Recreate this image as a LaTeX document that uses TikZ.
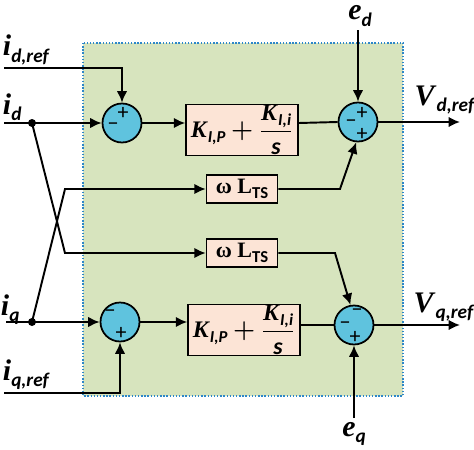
\documentclass[tikz,border=0pt]{standalone}
\usepackage{amsmath}
\usepackage{fontspec}
\setmainfont{Liberation Serif}
\newfontfamily\subf{Carlito}
\usepackage{xcolor}
\usetikzlibrary{positioning, arrows.meta}

\definecolor{panelgreen}{RGB}{215,228,190}
\definecolor{panelblue}{RGB}{45,135,200}
\definecolor{sumcyan}{RGB}{95,195,222}
\definecolor{gainpeach}{RGB}{252,228,214}

\newcommand{\sig}[3][11]{\textbf{\textit{#2}}\raisebox{-0.45ex}{\subf\fontsize{#1}{#1}\selectfont\textbf{\textit{#3}}}}

\tikzset{
  summer/.style={circle, draw, line width=1pt, fill=sumcyan, minimum size=0.78cm, inner sep=0pt},
  gain/.style={rectangle, draw, line width=0.9pt, fill=gainpeach, inner sep=0pt},
  dot/.style={circle, fill, minimum size=0.16cm, inner sep=0pt},
  sgn/.style={inner sep=0pt, font=\subf\fontsize{12.5}{12.5}\selectfont},
  sigtext/.style={inner sep=0pt, font=\fontsize{17}{20}\selectfont},
  arr/.style={-{Latex[length=6.5pt,width=6pt]}},
}

\begin{document}
\begin{tikzpicture}[x=0.02cm, y=-0.02cm, line width=1.1pt]
	\useasboundingbox (0,0) rectangle (474,450);
	
	%% Panel
	\draw[panelblue, densely dotted, fill=panelgreen, line width=0.8pt] (83,43) rectangle (403,396);
	
	%% Summing junctions
	\node[summer] (S1) at (122,123) {};
	\node[summer] (S2) at (358,122) {};
	\node[summer] (S3) at (120,322) {};
	\node[summer] (S4) at (354,325) {};
	
	%% Signs
	\node[sgn] at ([shift={(1,-10)}]S1.center) {+};
	\node[sgn] at ([shift={(-9,4)}]S1.center) {−};
	\node[sgn] at ([shift={(4,-9)}]S2.center) {+};
	\node[sgn] at ([shift={(-7,2)}]S2.center) {−};
	\node[sgn] at ([shift={(4,12)}]S2.center) {+};
	\node[sgn] at ([shift={(-10,-8)}]S3.center) {−};
	\node[sgn] at ([shift={(1,11)}]S3.center) {+};
	\node[sgn] at ([shift={(3,-12)}]S4.center) {−};
	\node[sgn] at ([shift={(-9,1)}]S4.center) {−};
	\node[sgn] at ([shift={(1,12)}]S4.center) {+};
	
	%% Gains
	\node[gain, minimum width=2.24cm, minimum height=1.02cm, font=\fontsize{13.5}{15}\selectfont] (PI1) at (242,130)
		{$\sig[9.5]{K}{I,P}\boldsymbol{+}\dfrac{\sig[9.5]{K}{I,i}}{\text{\subf\bfseries\itshape s}}$};
	\node[gain, minimum width=2.24cm, minimum height=1.02cm, font=\fontsize{13.5}{15}\selectfont] (PI2) at (244,330)
		{$\sig[9.5]{K}{I,P}\boldsymbol{+}\dfrac{\sig[9.5]{K}{I,i}}{\text{\subf\bfseries\itshape s}}$};
	\node[gain, minimum width=1.42cm, minimum height=0.56cm, font=\fontsize{12.5}{14}\selectfont] (W1) at (242,189)
		{\textbf{ω L}\raisebox{-0.45ex}{\subf\fontsize{9.5}{9.5}\selectfont\textbf{TS}}};
	\node[gain, minimum width=1.42cm, minimum height=0.56cm, font=\fontsize{12.5}{14}\selectfont] (W2) at (242,253)
		{\textbf{ω L}\raisebox{-0.45ex}{\subf\fontsize{9.5}{9.5}\selectfont\textbf{TS}}};
	
	%% Pick-off points
	\node[dot] (D1) at (32,123) {};
	\node[dot] (D2) at (32,322) {};
	
	%% Free ends and bends
	\coordinate (idref) at (4,68);
	\coordinate (idin) at (4,123);
	\coordinate (iqin) at (6,322);
	\coordinate (iqref) at (4,393);
	\coordinate (B1) at (65,189);
	\coordinate (B2) at (65,253);
	\coordinate (K1) at (340,189);
	\coordinate (K2) at (335,253);
	\coordinate (ed) at (358,30);
	\coordinate (eq) at (354,418);
	\coordinate (Vd) at (460,122);
	\coordinate (Vq) at (460,325);
	
	%% d axis
	\draw[arr] (idref) -| (S1.north);
	\draw[arr] (idin) -- (S1.west);
	\draw[arr] (S1.east) -- (S1 -| PI1.west);
	\draw (S1 -| PI1.east) -- (S2.west);
	\draw[arr] (ed) -- (S2.north);
	\draw[arr] (S2.east) -- (Vd);
	
	%% q axis
	\draw[arr] (iqin) -- (S3.west);
	\draw[arr] (iqref) -| (S3.south);
	\draw[arr] (S3.east) -- (S3 -| PI2.west);
	\draw (S4 -| PI2.east) -- (S4.west);
	\draw[arr] (eq) -- (S4.south);
	\draw[arr] (S4.east) -- (Vq);
	
	%% Cross coupling
	\draw[arr] (D2.center) -- (B1) -- (W1.west);
	\draw[arr] (D1.center) -- (B2) -- (W2.west);
	\draw[arr] (W1.east) -- (K1) -- (S2.265);
	\draw[arr] (W2.east) -- (K2) -- (S4.100);
	
	%% Labels
	\node[sigtext, anchor=west] (lidref) at (2,50) {\sig{i}{d,ref}};
	\node[sigtext, anchor=west] (lid) at (2,107) {\sig{i}{d}};
	\node[sigtext, anchor=west] (liq) at (0,310) {\sig{i}{q}};
	\node[sigtext, anchor=west] (liqref) at (2,375) {\sig{i}{q,ref}};
	\node[sigtext] (led) at (360,16) {\sig{e}{d}};
	\node[sigtext] (leq) at (354,434) {\sig{e}{q}};
	\node[sigtext] (lvd) at (445,100) {\sig{V}{d,ref}};
	\node[sigtext] (lvq) at (444,307) {\sig{V}{q,ref}};
\end{tikzpicture}
\end{document}
